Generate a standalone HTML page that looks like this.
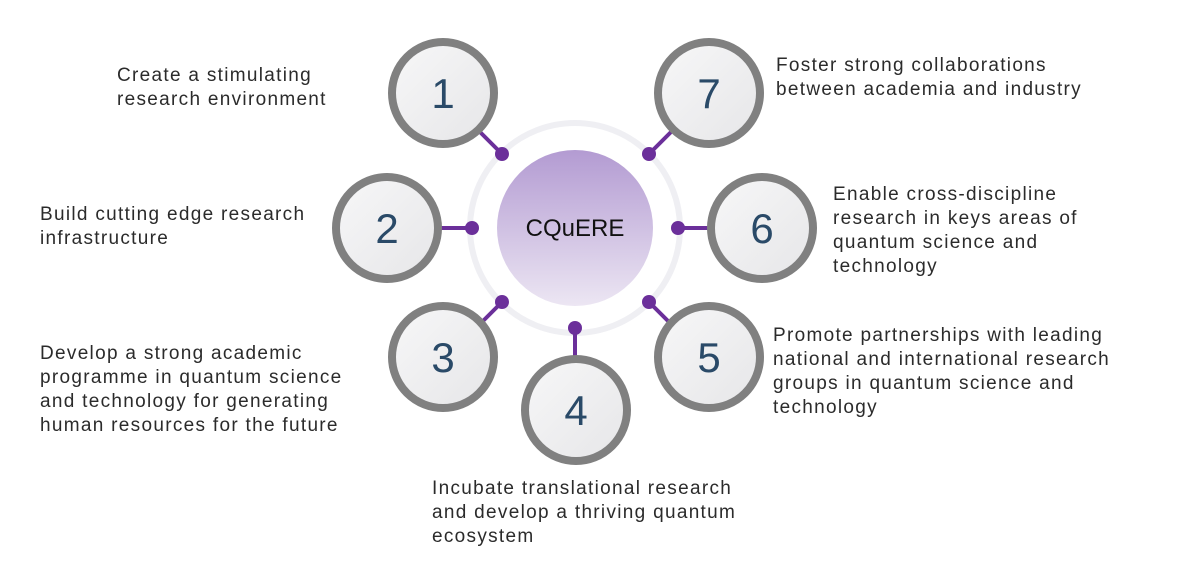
<!DOCTYPE html>
<html><head><meta charset="utf-8"><style>
body{margin:0;background:#fff;width:1177px;height:563px;overflow:hidden;position:relative;font-family:"Liberation Sans",sans-serif}
.t{position:absolute;font-size:19px;line-height:24px;color:#2b2b2b;letter-spacing:1.3px;white-space:nowrap}
</style></head><body>
<svg width="1177" height="563" style="position:absolute;left:0;top:0">
<defs>
<linearGradient id="c" x1="0" y1="0" x2="0" y2="1"><stop offset="0" stop-color="#b39bd2"/><stop offset="1" stop-color="#ece6f3"/></linearGradient>
<linearGradient id="w" x1="0" y1="0" x2="1" y2="1"><stop offset="0" stop-color="#f7f7f8"/><stop offset="1" stop-color="#e6e6e8"/></linearGradient>
</defs>
<circle cx="575" cy="228" r="105" fill="none" stroke="#efeff3" stroke-width="6"/>
<circle cx="575" cy="228" r="78" fill="url(#c)"/>
<g stroke="#6b2f9a" stroke-width="4">
<line x1="502" y1="154" x2="480" y2="132"/>
<line x1="649" y1="154" x2="671" y2="132"/>
<line x1="472" y1="228" x2="440" y2="228"/>
<line x1="678" y1="228" x2="712" y2="228"/>
<line x1="502" y1="302" x2="480" y2="324"/>
<line x1="649" y1="302" x2="671" y2="324"/>
<line x1="575" y1="328" x2="575" y2="362"/>
</g>
<g fill="#6b2f9a">
<circle cx="502" cy="154" r="7"/><circle cx="649" cy="154" r="7"/>
<circle cx="472" cy="228" r="7"/><circle cx="678" cy="228" r="7"/>
<circle cx="502" cy="302" r="7"/><circle cx="649" cy="302" r="7"/>
<circle cx="575" cy="328" r="7"/>
</g>
<g fill="url(#w)" stroke="#808080" stroke-width="8">
<circle cx="443" cy="93" r="51"/><circle cx="709" cy="93" r="51"/>
<circle cx="387" cy="228" r="51"/><circle cx="762" cy="228" r="51"/>
<circle cx="443" cy="357" r="51"/><circle cx="709" cy="357" r="51"/>
<circle cx="576" cy="410" r="51"/>
</g>
<g font-family="Liberation Sans,sans-serif" font-size="42" fill="#2a4a68" text-anchor="middle">
<text x="443" y="108">1</text><text x="709" y="108">7</text>
<text x="387" y="243">2</text><text x="762" y="243">6</text>
<text x="443" y="372">3</text><text x="709" y="372">5</text>
<text x="576" y="425">4</text>
</g>
<text x="575" y="236" font-family="Liberation Sans,sans-serif" font-size="24" fill="#111" text-anchor="middle">CQuERE</text>
</svg>
<div class="t" style="left:117px;top:64px">Create a stimulating<br>research environment</div>
<div class="t" style="left:776px;top:54px">Foster strong collaborations<br>between academia and industry</div>
<div class="t" style="left:40px;top:203px">Build cutting edge research<br>infrastructure</div>
<div class="t" style="left:833px;top:183px">Enable cross-discipline<br>research in keys areas of<br>quantum science and<br>technology</div>
<div class="t" style="left:40px;top:342px">Develop a strong academic<br>programme in quantum science<br>and technology for generating<br>human resources for the future</div>
<div class="t" style="left:773px;top:324px">Promote partnerships with leading<br>national and international research<br>groups in quantum science and<br>technology</div>
<div class="t" style="left:432px;top:477px">Incubate translational research<br>and develop a thriving quantum<br>ecosystem</div>
</body></html>
